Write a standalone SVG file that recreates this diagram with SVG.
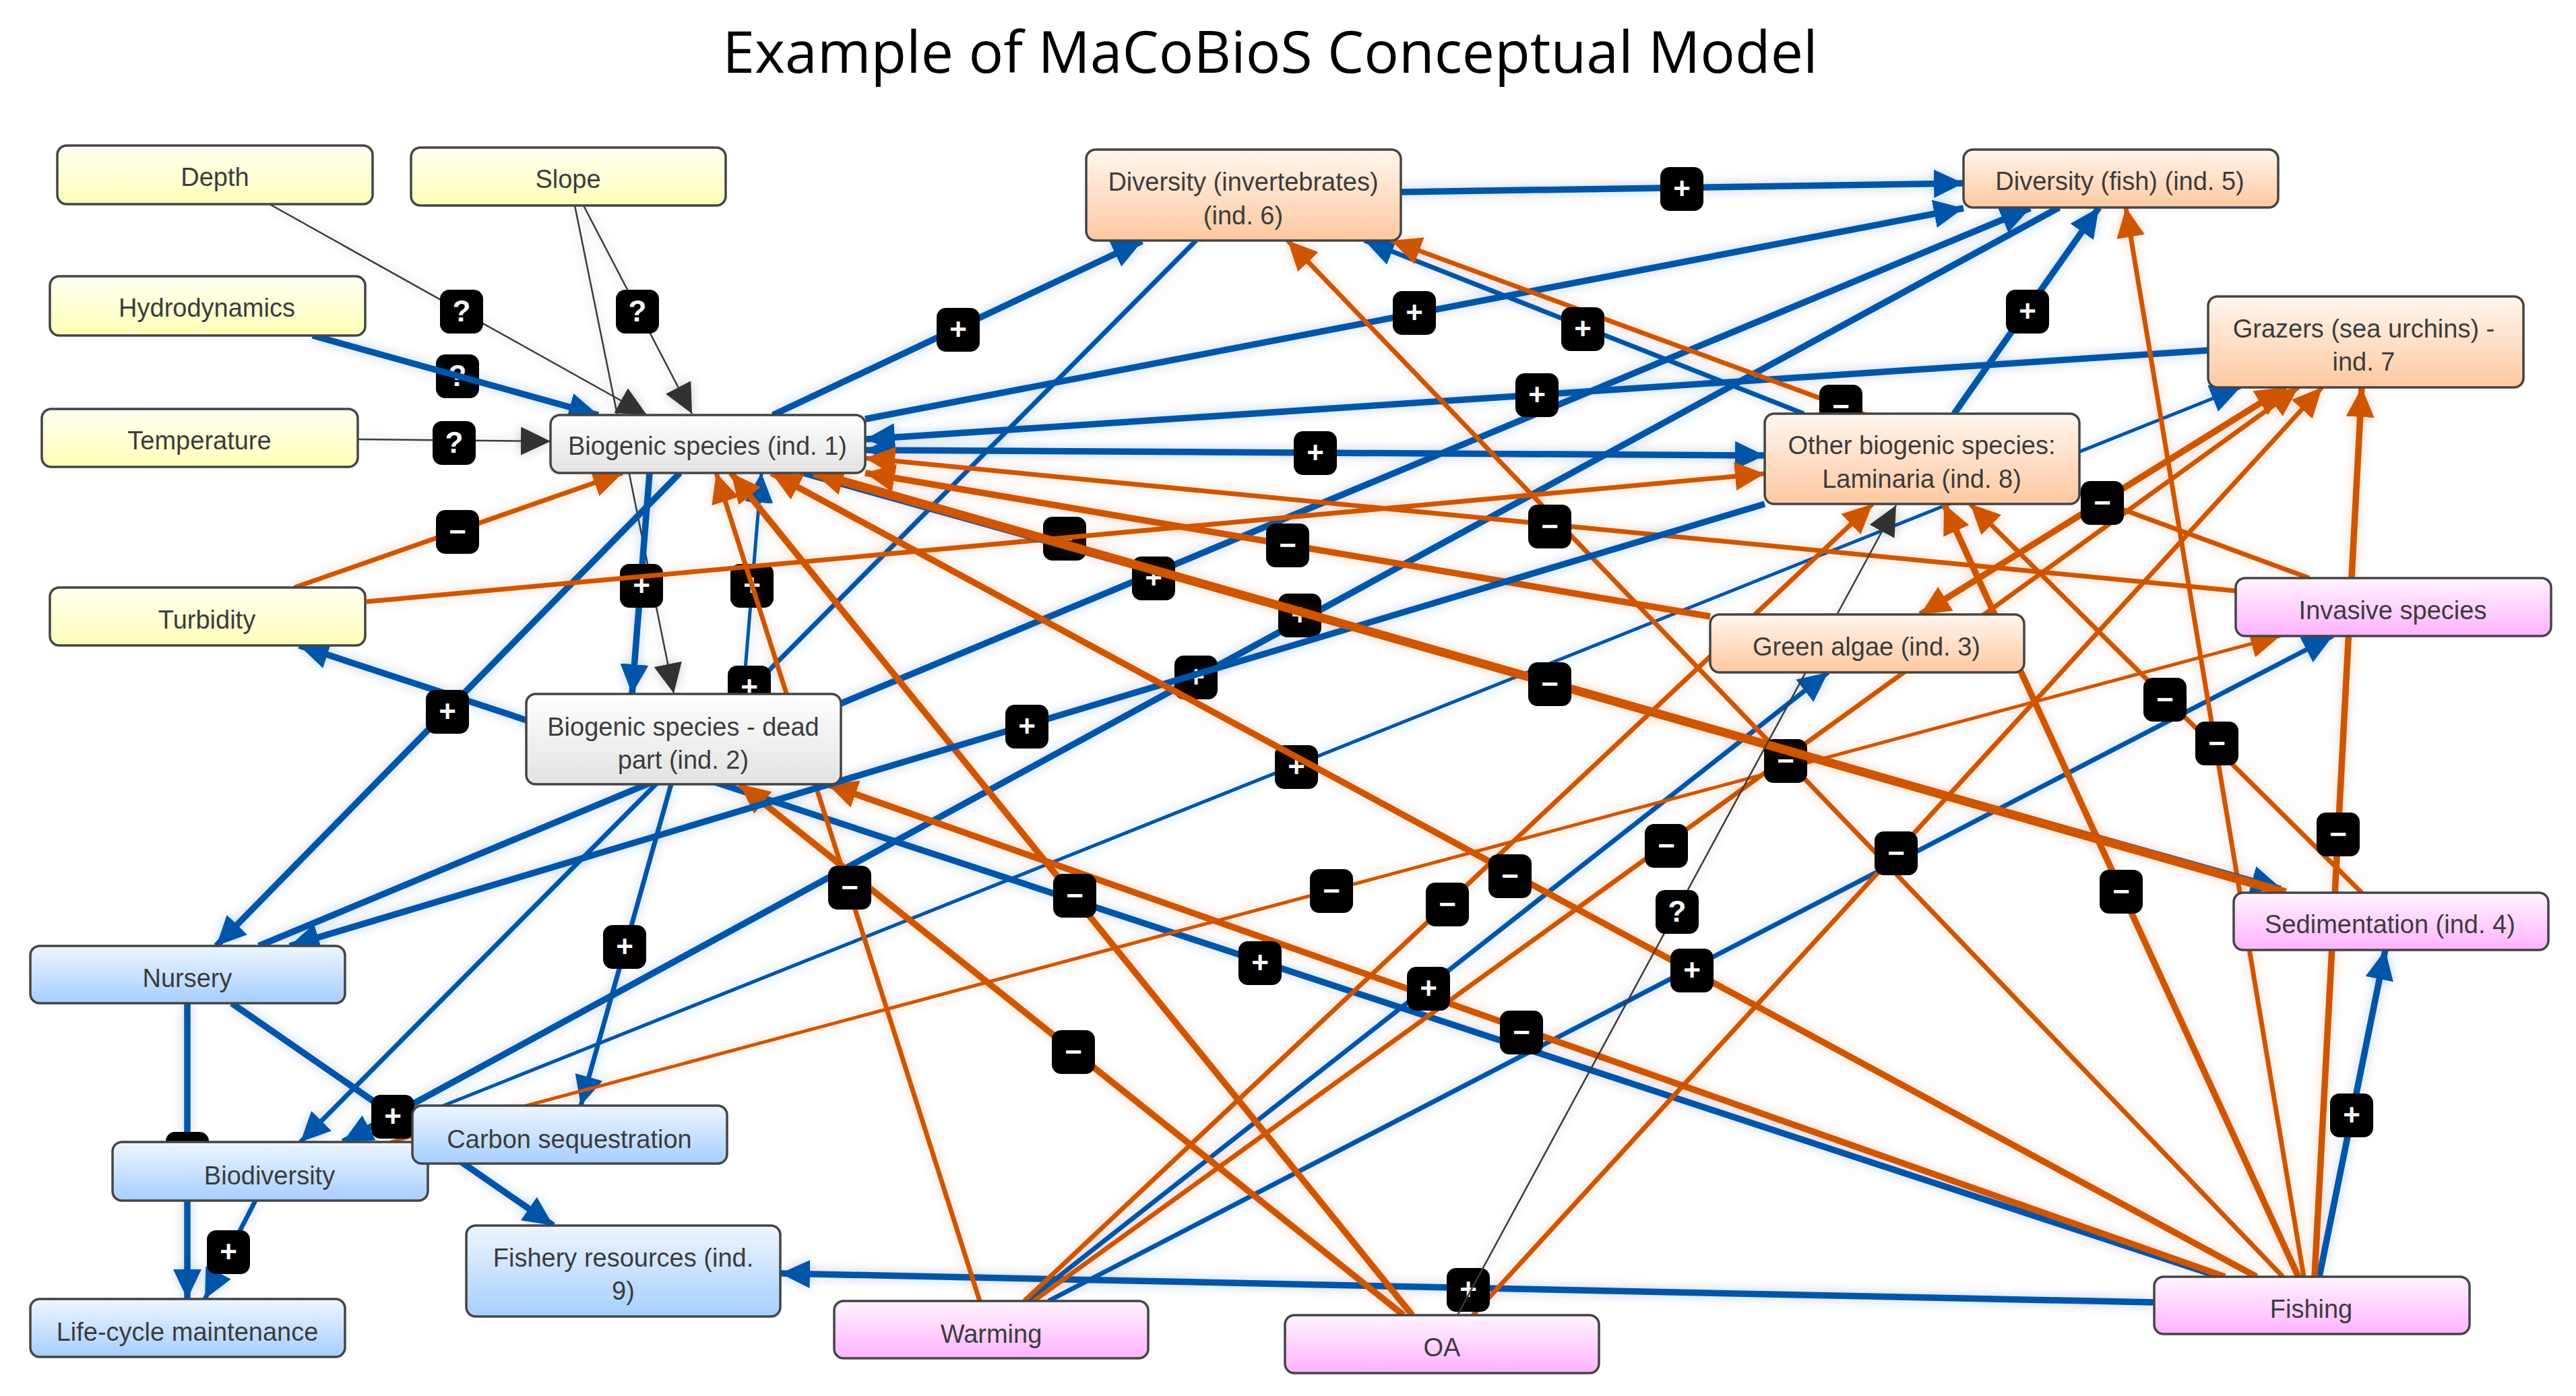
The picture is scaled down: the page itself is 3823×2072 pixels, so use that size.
<svg xmlns="http://www.w3.org/2000/svg" width="3823" height="2072" viewBox="0 0 3823 2072">
<style>
text{font-family:"Liberation Sans",Arial,sans-serif}
.title{font-family:"Open Sans","Noto Sans",sans-serif;font-size:86px;fill:#000;text-anchor:middle}
.n rect{stroke:#444;stroke-width:3.5}
.n text{font-size:38px;fill:#3c3c3c;text-anchor:middle}
.y rect{fill:url(#gy)}.w rect{fill:url(#gw)}.o rect{fill:url(#go)}.p rect{fill:url(#gp)}.c rect{fill:url(#gc)}
.bg text{font-size:44px;font-weight:bold;fill:#fff;text-anchor:middle}
line{fill:none;stroke-linecap:butt}
.bl{stroke:#0554a8;marker-end:url(#mb)}
.or{stroke:#cf5500;marker-end:url(#mo)}
.gr{stroke:#3a3a3a;stroke-width:2.5;marker-end:url(#mg)}
.s{stroke-width:5}.m{stroke-width:7}.t{stroke-width:9.5}.x{stroke-width:13}
.halo{filter:url(#halo)}
</style>
<defs>
<linearGradient id="gy" x1="0" y1="0" x2="0" y2="1"><stop offset="0" stop-color="#fffff2"/><stop offset="1" stop-color="#ffffb8"/></linearGradient>
<linearGradient id="gw" x1="0" y1="0" x2="0" y2="1"><stop offset="0" stop-color="#ffffff"/><stop offset="1" stop-color="#e2e2e2"/></linearGradient>
<linearGradient id="go" x1="0" y1="0" x2="0" y2="1"><stop offset="0" stop-color="#fff6ee"/><stop offset="1" stop-color="#ffc8a0"/></linearGradient>
<linearGradient id="gp" x1="0" y1="0" x2="0" y2="1"><stop offset="0" stop-color="#fff4ff"/><stop offset="1" stop-color="#ffb2ff"/></linearGradient>
<linearGradient id="gc" x1="0" y1="0" x2="0" y2="1"><stop offset="0" stop-color="#eef6ff"/><stop offset="1" stop-color="#a6ceff"/></linearGradient>
<filter id="halo" filterUnits="userSpaceOnUse" x="0" y="0" width="3823" height="2072"><feGaussianBlur in="SourceGraphic" stdDeviation="8" result="b"/><feComponentTransfer in="b" result="f"><feFuncA type="linear" slope="0.28"/></feComponentTransfer><feMerge><feMergeNode in="f"/><feMergeNode in="SourceGraphic"/></feMerge></filter>
<marker id="mb" markerUnits="userSpaceOnUse" markerWidth="44" markerHeight="42" viewBox="0 0 44 42" refX="44" refY="21" orient="auto-start-reverse"><path d="M0 0L44 21L0 42z" fill="#0554a8"/></marker>
<marker id="mo" markerUnits="userSpaceOnUse" markerWidth="44" markerHeight="42" viewBox="0 0 44 42" refX="44" refY="21" orient="auto-start-reverse"><path d="M0 0L44 21L0 42z" fill="#cf5500"/></marker>
<marker id="mg" markerUnits="userSpaceOnUse" markerWidth="44" markerHeight="42" viewBox="0 0 44 42" refX="44" refY="21" orient="auto-start-reverse"><path d="M0 0L44 21L0 42z" fill="#333"/></marker>
<rect id="bb" x="-32" y="-32" width="64" height="65" rx="14" fill="#000"/>
</defs>
<rect width="3823" height="2072" fill="#fff"/>
<text class="title" x="1885" y="108">Example of MaCoBioS Conceptual Model</text>

<g id="connectors-under" class="halo">
<line class="gr" x1="400" y1="303" x2="960" y2="616"/>
<line class="gr" x1="866" y1="305" x2="1027" y2="614"/>
<line class="gr" x1="853" y1="305" x2="1000" y2="1029"/>
<line class="gr" x1="531" y1="652" x2="817" y2="655"/>
<line class="bl t" x1="1147" y1="616" x2="1695" y2="358"/>
<line class="bl t" x1="1009" y1="702" x2="321" y2="1404"/>
<line class="bl t" x1="964" y1="702" x2="938" y2="1030"/>
<line class="bl s" x1="1103" y1="1030" x2="1130" y2="702"/>
<line class="bl m" x1="1775" y1="357" x2="446" y2="1695"/>
<line class="bl t" x1="1284" y1="668" x2="2619" y2="676" marker-start="url(#mb)"/>
<line class="bl t" x1="3277" y1="520" x2="1284" y2="652"/>
<line class="bl t" x1="2079" y1="285" x2="2914" y2="272"/>
<line class="bl t" x1="1284" y1="622" x2="2914" y2="309"/>
<line class="bl m" x1="2677" y1="614" x2="2025" y2="357"/>
<line class="bl t" x1="384" y1="1404" x2="3013" y2="309"/>
<line class="bl t" x1="3056" y1="308" x2="509" y2="1695"/>
<line class="bl t" x1="2900" y1="614" x2="3115" y2="308"/>
<line class="bl m" x1="996" y1="1164" x2="862" y2="1641"/>
<line class="bl t" x1="3294" y1="1895" x2="444" y2="958"/>
<line class="bl t" x1="3197" y1="1933" x2="1158" y2="1890"/>
<line class="bl t" x1="3442" y1="1895" x2="3540" y2="1410"/>
<line class="bl m" x1="1525" y1="1931" x2="2713" y2="998"/>
<line class="bl m" x1="1556" y1="1931" x2="3462" y2="944"/>
<line class="bl s" x1="523" y1="1695" x2="3325" y2="575"/>
<line class="bl t" x1="278" y1="1489" x2="278" y2="1928"/>
<line class="bl t" x1="344" y1="1489" x2="821" y2="1819"/>
<line class="bl m" x1="379" y1="1782" x2="304" y2="1928"/>
<line class="or m" x1="437" y1="872" x2="924" y2="702"/>
<line class="or t" x1="2096" y1="1952" x2="1085" y2="702"/>
<line class="or t" x1="2083" y1="1952" x2="1098" y2="1164"/>
<line class="or m" x1="3318" y1="877" x2="1284" y2="680"/>
<line class="or t" x1="2538" y1="915" x2="1284" y2="702"/>
<line class="or t" x1="3302" y1="1895" x2="1228" y2="1164"/>
<line class="or m" x1="1520" y1="1931" x2="2779" y2="748"/>
<line class="or t" x1="3411" y1="1895" x2="2885" y2="748"/>
<line class="or m" x1="3505" y1="1325" x2="2924" y2="748"/>
<line class="or m" x1="3388" y1="1895" x2="1911" y2="357"/>
<line class="or m" x1="3427" y1="858" x2="2065" y2="357"/>
<line class="or m" x1="3419" y1="1895" x2="3155" y2="308"/>
<line class="or t" x1="3435" y1="1895" x2="3505" y2="575"/>
<line class="or m" x1="2186" y1="1952" x2="3446" y2="575"/>
<line class="or m" x1="1534" y1="1931" x2="3411" y2="575"/>
<line class="or t" x1="2850" y1="912" x2="3392" y2="575" marker-start="url(#mo)"/>
<line class="or s" x1="580" y1="1695" x2="3384" y2="944"/>
</g>

<g id="badges-lower" class="bg">
<g transform="translate(685,462)"><use href="#bb"/><text y="15">?</text></g>
<g transform="translate(946,462)"><use href="#bb"/><text y="15">?</text></g>
<g transform="translate(679,558)"><use href="#bb"/><text y="15">?</text></g>
<g transform="translate(674,657)"><use href="#bb"/><text y="15">?</text></g>
<g transform="translate(679,789)"><use href="#bb"/><text y="15">−</text></g>
<g transform="translate(1580,799)"><use href="#bb"/><text y="15">−</text></g>
<g transform="translate(1911,809)"><use href="#bb"/><text y="15">−</text></g>
<g transform="translate(2300,781)"><use href="#bb"/><text y="15">−</text></g>
<g transform="translate(2732,603)"><use href="#bb"/><text y="15">−</text></g>
<g transform="translate(3120,746)"><use href="#bb"/><text y="15">−</text></g>
<g transform="translate(3213,1038)"><use href="#bb"/><text y="15">−</text></g>
<g transform="translate(3290,1103)"><use href="#bb"/><text y="15">−</text></g>
<g transform="translate(1595,1329)"><use href="#bb"/><text y="15">−</text></g>
<g transform="translate(1976,1322)"><use href="#bb"/><text y="15">−</text></g>
<g transform="translate(2148,1342)"><use href="#bb"/><text y="15">−</text></g>
<g transform="translate(2473,1255)"><use href="#bb"/><text y="15">−</text></g>
<g transform="translate(2258,1532)"><use href="#bb"/><text y="15">−</text></g>
<g transform="translate(1593,1561)"><use href="#bb"/><text y="15">−</text></g>
<g transform="translate(2814,1266)"><use href="#bb"/><text y="15">−</text></g>
<g transform="translate(3148,1323)"><use href="#bb"/><text y="15">−</text></g>
<g transform="translate(3470,1238)"><use href="#bb"/><text y="15">−</text></g>
<g transform="translate(2650,1129)"><use href="#bb"/><text y="15">−</text></g>
<g transform="translate(952,869)"><use href="#bb"/><text y="15">+</text></g>
<g transform="translate(1116,869)"><use href="#bb"/><text y="15">+</text></g>
<g transform="translate(664,1056)"><use href="#bb"/><text y="15">+</text></g>
<g transform="translate(1112,1020)"><use href="#bb"/><text y="15">+</text></g>
<g transform="translate(1422,489)"><use href="#bb"/><text y="15">+</text></g>
<g transform="translate(2496,280)"><use href="#bb"/><text y="15">+</text></g>
<g transform="translate(2099,464)"><use href="#bb"/><text y="15">+</text></g>
<g transform="translate(2349,488)"><use href="#bb"/><text y="15">+</text></g>
<g transform="translate(2281,586)"><use href="#bb"/><text y="15">+</text></g>
<g transform="translate(1952,672)"><use href="#bb"/><text y="15">+</text></g>
<g transform="translate(1712,858)"><use href="#bb"/><text y="15">+</text></g>
<g transform="translate(1929,913)"><use href="#bb"/><text y="15">+</text></g>
<g transform="translate(1775,1005)"><use href="#bb"/><text y="15">+</text></g>
<g transform="translate(1924,1138)"><use href="#bb"/><text y="15">+</text></g>
<g transform="translate(3009,462)"><use href="#bb"/><text y="15">+</text></g>
<g transform="translate(1870,1429)"><use href="#bb"/><text y="15">+</text></g>
<g transform="translate(2120,1467)"><use href="#bb"/><text y="15">+</text></g>
<g transform="translate(2179,1914)"><use href="#bb"/><text y="15">+</text></g>
<g transform="translate(3490,1655)"><use href="#bb"/><text y="15">+</text></g>
<g transform="translate(583,1657)"><use href="#bb"/><text y="15">+</text></g>
<g transform="translate(927,1405)"><use href="#bb"/><text y="15">+</text></g>
<g transform="translate(339,1858)"><use href="#bb"/><text y="15">+</text></g>
<g transform="translate(278,1712)"><use href="#bb"/><text y="15">+</text></g>
</g>

<g id="connectors-over" class="halo">
<line class="bl t" x1="464" y1="498" x2="888" y2="616"/>
<line class="or m" x1="544" y1="893" x2="2619" y2="703"/>
<line class="or m" x1="1454" y1="1931" x2="1063" y2="702"/>
<line class="bl t" x1="2619" y1="748" x2="430" y2="1404"/>
<line class="bl m" x1="1187" y1="702" x2="3385" y2="1318"/>
<line class="or x" x1="3392" y1="1325" x2="1208" y2="702"/>
<line class="or t" x1="3349" y1="1895" x2="1145" y2="702"/>
<line class="gr" x1="2163" y1="1952" x2="2814" y2="750"/>
</g>

<g id="badges-upper" class="bg">
<g transform="translate(2489,1353)"><use href="#bb"/><text y="15">?</text></g>
<g transform="translate(2300,1015)"><use href="#bb"/><text y="15">−</text></g>
<g transform="translate(2241,1300)"><use href="#bb"/><text y="15">−</text></g>
<g transform="translate(1261,1317)"><use href="#bb"/><text y="15">−</text></g>
<g transform="translate(1524,1078)"><use href="#bb"/><text y="15">+</text></g>
<g transform="translate(2511,1440)"><use href="#bb"/><text y="15">+</text></g>
</g>

<g id="n-depth" class="n y"><rect x="85" y="216" width="468" height="87" rx="14"/><text x="319" y="276">Depth</text></g>
<g id="n-slope" class="n y"><rect x="610" y="219" width="467" height="86" rx="14"/><text x="843" y="279">Slope</text></g>
<g id="n-hydro" class="n y"><rect x="74" y="410" width="468" height="88" rx="14"/><text x="307" y="470">Hydrodynamics</text></g>
<g id="n-temp" class="n y"><rect x="62" y="607" width="469" height="86" rx="14"/><text x="296" y="667">Temperature</text></g>
<g id="n-turb" class="n y"><rect x="74" y="872" width="468" height="86" rx="14"/><text x="307" y="933">Turbidity</text></g>
<g id="n-bio1" class="n w"><rect x="817" y="616" width="467" height="86" rx="14"/><text x="1050" y="675">Biogenic species (ind. 1)</text></g>
<g id="n-bio2" class="n w"><rect x="781" y="1030" width="467" height="134" rx="14"/><text x="1014" y="1092">Biogenic species - dead</text><text x="1014" y="1141">part (ind. 2)</text></g>
<g id="n-divinv" class="n o"><rect x="1612" y="222" width="467" height="135" rx="14"/><text x="1845" y="283">Diversity (invertebrates)</text><text x="1845" y="333">(ind. 6)</text></g>
<g id="n-divfish" class="n o"><rect x="2914" y="222" width="467" height="86" rx="14"/><text x="3146" y="282">Diversity (fish) (ind. 5)</text></g>
<g id="n-grazers" class="n o"><rect x="3277" y="440" width="468" height="135" rx="14"/><text x="3508" y="501">Grazers (sea urchins) -</text><text x="3508" y="550">ind. 7</text></g>
<g id="n-other" class="n o"><rect x="2619" y="614" width="467" height="134" rx="14"/><text x="2852" y="674">Other biogenic species:</text><text x="2852" y="724">Laminaria (ind. 8)</text></g>
<g id="n-green" class="n o"><rect x="2538" y="912" width="466" height="86" rx="14"/><text x="2770" y="973">Green algae (ind. 3)</text></g>
<g id="n-invasive" class="n p"><rect x="3318" y="858" width="468" height="86" rx="14"/><text x="3551" y="919">Invasive species</text></g>
<g id="n-sediment" class="n p"><rect x="3315" y="1325" width="467" height="85" rx="14"/><text x="3547" y="1385">Sedimentation (ind. 4)</text></g>
<g id="n-fishing" class="n p"><rect x="3197" y="1895" width="468" height="85" rx="14"/><text x="3430" y="1956">Fishing</text></g>
<g id="n-oa" class="n p"><rect x="1907" y="1952" width="466" height="86" rx="14"/><text x="2140" y="2013">OA</text></g>
<g id="n-warming" class="n p"><rect x="1238" y="1931" width="466" height="85" rx="14"/><text x="1471" y="1993">Warming</text></g>
<g id="n-nursery" class="n c"><rect x="45" y="1404" width="467" height="85" rx="14"/><text x="278" y="1465">Nursery</text></g>
<g id="n-biodiv" class="n c"><rect x="167" y="1695" width="468" height="87" rx="14"/><text x="400" y="1758">Biodiversity</text></g>
<g id="n-carbon" class="n c"><rect x="612" y="1641" width="467" height="86" rx="14"/><text x="845" y="1704">Carbon sequestration</text></g>
<g id="n-fishery" class="n c"><rect x="692" y="1819" width="466" height="135" rx="14"/><text x="925" y="1880">Fishery resources (ind.</text><text x="925" y="1929">9)</text></g>
<g id="n-life" class="n c"><rect x="45" y="1928" width="467" height="86" rx="14"/><text x="278" y="1990">Life-cycle maintenance</text></g>
</svg>
